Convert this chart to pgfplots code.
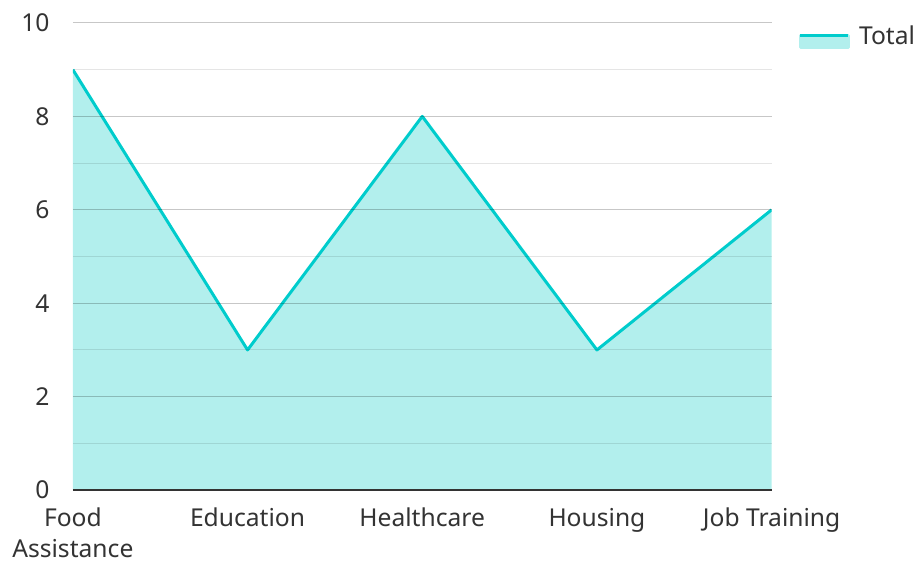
\documentclass[border=0pt]{standalone}
\usepackage{pgfplots}
\pgfplotsset{compat=1.18}
\usepackage{fontspec}
\setmainfont{Noto Sans}
\definecolor{linec}{RGB}{0,204,204}
\definecolor{fillc}{RGB}{178,239,237}
\definecolor{txt}{RGB}{51,51,51}
\begin{document}
\begin{tikzpicture}[x=0.75pt,y=0.75pt]
\begin{axis}[
  scale only axis,
  width=525pt, height=351pt,
  xmin=0, xmax=4, ymin=0, ymax=10,
  axis on top,
  axis x line*=bottom,
  axis y line*=left,
  x axis line style={draw=txt, line width=1.5pt, -},
  y axis line style={draw=none},
  xtick={0,1,2,3,4},
  xticklabels={Food\\Assistance, Education, Healthcare, Housing, Job Training},
  xticklabel style={align=center, text=txt, font=\fontsize{18.5pt}{23pt}\selectfont, yshift=-10pt},
  major tick length=0pt,
  minor tick length=0pt,
  ytick={0,2,4,6,8,10},
  minor ytick={1,3,5,7,9},
  ymajorgrids, yminorgrids,
  major grid style={draw=black, draw opacity=0.22, line width=0.75pt},
  minor grid style={draw=black, draw opacity=0.1, line width=0.75pt},
  yticklabel style={text=txt, font=\fontsize{18.5pt}{21pt}\selectfont, xshift=-14pt},
  /pgf/number format/assume math mode=true,
  legend style={draw=none, fill=none, inner sep=0pt, at={(rel axis cs:1.0386,0.994)}, anchor=north west, font=\fontsize{18.5pt}{21pt}\selectfont, text=txt, row sep=0pt, nodes={inner sep=0pt}, /tikz/every odd column/.append style={column sep=7pt}},
  legend cell align=left,
]
\addplot[draw=none, fill=fillc, forget plot] coordinates {(0,9) (1,3) (2,8) (3,3) (4,6)} \closedcycle;
\addplot[draw=linec, line width=2.25pt, line join=round,
  legend image code/.code={
    \fill[fillc] (0pt,-8pt) rectangle (36pt,1pt);
    \draw[linec, line width=2.25pt] (0pt,1pt) -- (36pt,1pt);
  }] coordinates {(0,9) (1,3) (2,8) (3,3) (4,6)};
\addlegendentry{Total}
\end{axis}
\path[use as bounding box] (-73,-72) rectangle (842,491);
\end{tikzpicture}
\end{document}
